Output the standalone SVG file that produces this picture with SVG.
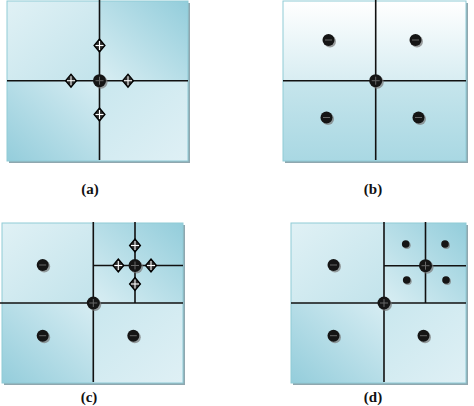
<svg xmlns="http://www.w3.org/2000/svg" width="474" height="406" viewBox="0 0 474 406">
<style>
.shadow{fill:#8fa7af}
.box{stroke:#8fcbd6;stroke-width:1}
.ln{stroke:#111;stroke-width:1.6;fill:none}
.lbl{font-family:"Liberation Serif","DejaVu Serif",serif;font-weight:700;font-size:15px;fill:#111;text-anchor:middle}
.dsh{fill:#777;opacity:0.7}
.dot{fill:#151515}
.mk{stroke:#666;stroke-width:1}
.dia{fill:#2a2a2a;stroke:#000;stroke-width:1.2}
.cr{stroke:#fff;stroke-width:1.1}
</style>
<defs>
<linearGradient id="gLD" x1="0" y1="1" x2="1" y2="0"><stop offset="0" stop-color="#d9eef3"/><stop offset="1" stop-color="#93cddb"/></linearGradient>
<linearGradient id="gDL" x1="0" y1="1" x2="1" y2="0"><stop offset="0" stop-color="#94cddb"/><stop offset="1" stop-color="#d7edf3"/></linearGradient>
<linearGradient id="gL" x1="0" y1="0" x2="1" y2="1"><stop offset="0" stop-color="#e0f1f5"/><stop offset="1" stop-color="#c2e3eb"/></linearGradient>
<linearGradient id="gL2" x1="0" y1="0" x2="1" y2="1"><stop offset="0" stop-color="#c9e7ee"/><stop offset="1" stop-color="#dff0f5"/></linearGradient>
<linearGradient id="gW" x1="0" y1="0" x2="0" y2="1"><stop offset="0" stop-color="#ffffff"/><stop offset="1" stop-color="#d8edf2"/></linearGradient>
<linearGradient id="gB" x1="0" y1="0" x2="0" y2="1"><stop offset="0" stop-color="#c6e5ec"/><stop offset="1" stop-color="#a9d8e3"/></linearGradient>
<g id="bd"><circle cx="1.5" cy="1.5" r="6" class="dsh"/><circle r="6" class="dot"/><line x1="-3.5" y1="0" x2="3.5" y2="0" class="mk"/></g>
<g id="cd"><circle cx="1.5" cy="1.5" r="6.5" class="dsh"/><circle r="6.5" class="dot"/><line x1="-4" y1="0" x2="4" y2="0" class="mk"/><line x1="0" y1="-4" x2="0" y2="4" class="mk"/></g>
<g id="sd"><circle cx="1.2" cy="1.2" r="3.8" class="dsh"/><circle r="3.8" class="dot"/></g>
<g id="dm"><polygon points="0,-6.5 5.5,0 0,6.5 -5.5,0" class="dia"/><line x1="-4" y1="0" x2="4" y2="0" class="cr"/><line x1="0" y1="-4.5" x2="0" y2="4.5" class="cr"/></g>
</defs>

<g id="panel-a">
<rect x="9" y="3" width="181" height="160" class="shadow"/>
<rect x="7" y="1" width="92.5" height="79.7" fill="url(#gL)"/>
<rect x="99.5" y="1" width="88.5" height="79.7" fill="url(#gLD)"/>
<rect x="7" y="80.7" width="92.5" height="80.3" fill="url(#gDL)"/>
<rect x="99.5" y="80.7" width="88.5" height="80.3" fill="url(#gL2)"/>
<rect x="7" y="1" width="181" height="160" fill="none" class="box"/>
<line x1="7" y1="80.7" x2="188" y2="80.7" class="ln"/>
<line x1="99.5" y1="0" x2="99.5" y2="160" class="ln"/>
<use href="#dm" x="99.5" y="45.5"/>
<use href="#dm" x="71" y="80.7"/>
<use href="#dm" x="128" y="80.7"/>
<use href="#dm" x="99.5" y="114.5"/>
<use href="#cd" x="99.5" y="80.7"/>
<text x="90" y="194" class="lbl">(a)</text>
</g>

<g id="panel-b">
<rect x="285" y="3" width="183" height="160" class="shadow"/>
<rect x="283" y="1" width="183" height="79.7" fill="url(#gW)"/>
<rect x="283" y="80.7" width="183" height="80.3" fill="url(#gB)"/>
<rect x="283" y="1" width="183" height="160" fill="none" class="box"/>
<line x1="283" y1="80.7" x2="466" y2="80.7" class="ln"/>
<line x1="375.7" y1="0" x2="375.7" y2="160" class="ln"/>
<use href="#bd" x="328.5" y="40"/>
<use href="#bd" x="415.5" y="40"/>
<use href="#bd" x="326.5" y="117.5"/>
<use href="#bd" x="418.5" y="117.5"/>
<use href="#cd" x="375.7" y="80.7"/>
<text x="373" y="194" class="lbl">(b)</text>
</g>

<g id="panel-c">
<rect x="4" y="225" width="181" height="160" class="shadow"/>
<rect x="2" y="223" width="91.3" height="80" fill="url(#gL)"/>
<rect x="93.3" y="223" width="89.7" height="80" fill="url(#gLD)"/>
<rect x="2" y="303" width="91.3" height="80" fill="url(#gDL)"/>
<rect x="93.3" y="303" width="89.7" height="80" fill="url(#gL2)"/>
<rect x="2" y="223" width="181" height="160" fill="none" class="box"/>
<line x1="0" y1="303" x2="183" y2="303" class="ln"/>
<line x1="93.3" y1="222" x2="93.3" y2="382" class="ln"/>
<line x1="93.3" y1="265.5" x2="183" y2="265.5" class="ln"/>
<line x1="135" y1="222" x2="135" y2="303" class="ln"/>
<use href="#bd" x="42.7" y="265"/>
<use href="#bd" x="42.7" y="335.7"/>
<use href="#bd" x="133.3" y="335.7"/>
<use href="#dm" x="135" y="245.5"/>
<use href="#dm" x="118.3" y="265.5"/>
<use href="#dm" x="151" y="265.5"/>
<use href="#dm" x="135" y="284"/>
<use href="#cd" x="135" y="265.5"/>
<use href="#cd" x="93.3" y="303"/>
<text x="89" y="402" class="lbl">(c)</text>
</g>

<g id="panel-d">
<rect x="293" y="225" width="175" height="160" class="shadow"/>
<rect x="291" y="223" width="93" height="80" fill="url(#gL)"/>
<rect x="384" y="223" width="82" height="80" fill="url(#gLD)"/>
<rect x="291" y="303" width="93" height="80" fill="url(#gDL)"/>
<rect x="384" y="303" width="82" height="80" fill="url(#gL2)"/>
<rect x="291" y="223" width="175" height="160" fill="none" class="box"/>
<line x1="291" y1="303" x2="466" y2="303" class="ln"/>
<line x1="384" y1="222" x2="384" y2="382" class="ln"/>
<line x1="384" y1="265.7" x2="466" y2="265.7" class="ln"/>
<line x1="425.5" y1="222" x2="425.5" y2="303" class="ln"/>
<use href="#bd" x="333.5" y="265"/>
<use href="#bd" x="333.5" y="335.7"/>
<use href="#bd" x="423.5" y="335.7"/>
<use href="#sd" x="405.7" y="244"/>
<use href="#sd" x="445" y="244"/>
<use href="#sd" x="406.7" y="280"/>
<use href="#sd" x="446" y="280"/>
<use href="#cd" x="425.5" y="265.7"/>
<use href="#cd" x="384" y="303"/>
<text x="373" y="402" class="lbl">(d)</text>
</g>
</svg>
